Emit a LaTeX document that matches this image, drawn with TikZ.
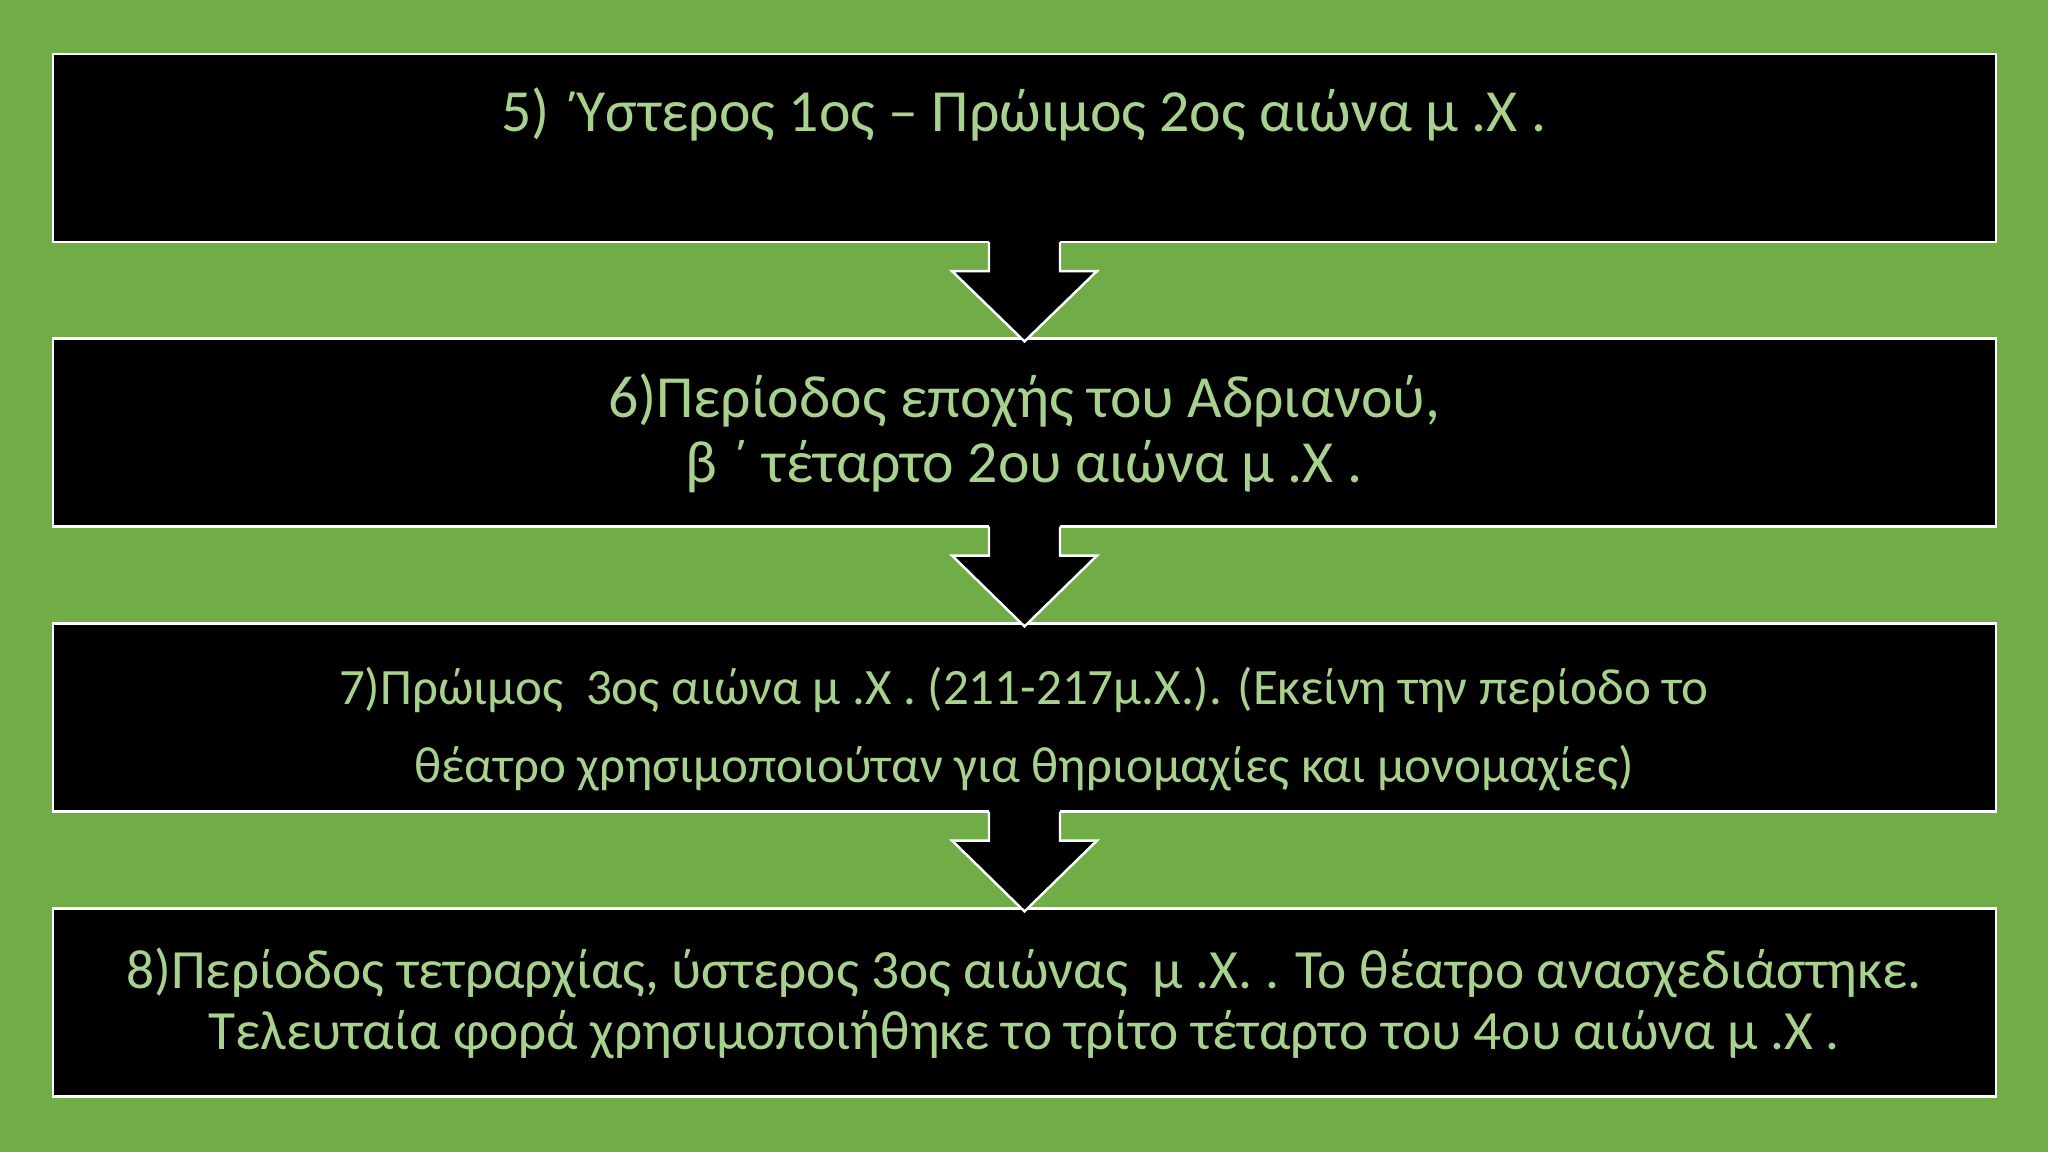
\documentclass[tikz,border=0pt]{standalone}
\usepackage{fontspec}
\setmainfont{Carlito}
\usetikzlibrary{calc}
\definecolor{bg}{HTML}{70AD47}
\definecolor{txtc}{HTML}{A9D18E}
\begin{document}
\begin{tikzpicture}[x=0.01cm,y=-0.01cm,
  box/.style={draw=white,fill=black,line width=0.7pt,minimum width=19.42cm,minimum height=1.88cm,inner sep=0pt,outer sep=0pt},
  bigtxt/.style={text=txtc,anchor=base,inner sep=0pt,font=\fontsize{17}{21}\selectfont},
  midtxt/.style={text=txtc,anchor=base,inner sep=0pt,font=\fontsize{15.75}{19}\selectfont},
  smalltxt/.style={text=txtc,anchor=base,inner sep=0pt,font=\fontsize{14.5}{17}\selectfont},
  arrowline/.style={draw=white,line width=0.7pt,line join=miter}]
\path[use as bounding box,fill=bg] (0,0) rectangle (2048,1152);
\node[box] (b1) at (1024.5,148) {};
\node[box] (b2) at (1024.5,432.5) {};
\node[box] (b3) at (1024.5,717.5) {};
\node[box] (b4) at (1024.5,1002.5) {};
\foreach \a/\b in {b1/b2,b2/b3,b3/b4}{
  \fill[black] ($(\a.south)+(-35.5,-4)$) -- ($(\a.south)+(-35.5,29)$) -- ($(\a.south)+(-72.5,29)$)
     -- ($(\b.north)+(0,3)$) -- ($(\a.south)+(72.5,29)$) -- ($(\a.south)+(35.5,29)$) -- ($(\a.south)+(35.5,-4)$) -- cycle;
  \draw[arrowline] ($(\a.south)+(-35.5,0)$) -- ($(\a.south)+(-35.5,29)$) -- ($(\a.south)+(-72.5,29)$)
     -- ($(\b.north)+(0,3)$) -- ($(\a.south)+(72.5,29)$) -- ($(\a.south)+(35.5,29)$) -- ($(\a.south)+(35.5,0)$);
}
\node[bigtxt] (t1) at (1024,132) {5)~ Ύστερος 1ος – Πρώιμος 2ος αιώνα μ .Χ .};
\node[bigtxt] (t2a) at (1024,418) {6)Περίοδος εποχής του Αδριανού,};
\node[bigtxt] (t2b) at (1024,483) {β ΄ τέταρτο 2ου αιώνα μ .Χ .};
\node[smalltxt] (t3a) at (1024,704) {7)Πρώιμος~ 3ος αιώνα μ .Χ . (211-217μ.Χ.). (Εκείνη την περίοδο το};
\node[smalltxt] (t3b) at (1024,782) {θέατρο χρησιμοποιούταν για θηριομαχίες και μονομαχίες)};
\node[midtxt] (t4a) at (1024,988) {8)Περίοδος τετραρχίας, ύστερος 3ος αιώνας~ μ .Χ. . Το θέατρο ανασχεδιάστηκε.};
\node[midtxt] (t4b) at (1024,1049) {Τελευταία φορά χρησιμοποιήθηκε το τρίτο τέταρτο του 4ου αιώνα μ .Χ .};
\end{tikzpicture}
\end{document}
